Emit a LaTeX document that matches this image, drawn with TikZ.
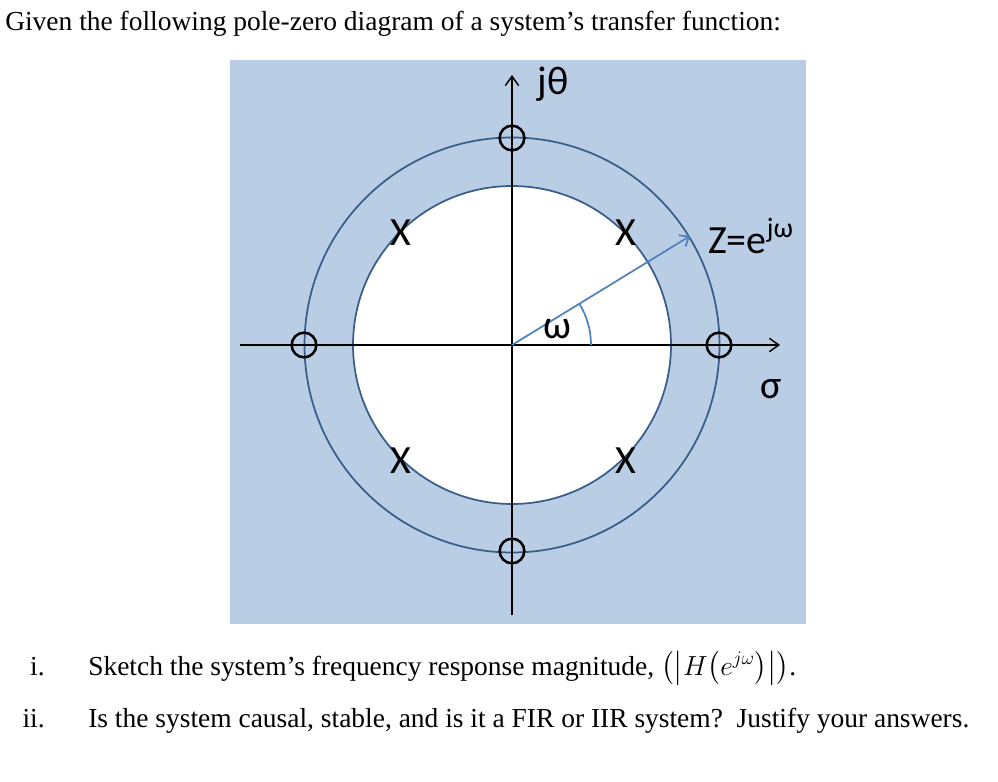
\documentclass[tikz,border=0pt]{standalone}
\usepackage{amsmath}
\usepackage{fontspec}
\setmainfont{Liberation Serif}
\newfontfamily\calib{Carlito}
\usetikzlibrary{arrows.meta}

\begin{document}
\begin{tikzpicture}[x=0.75pt,y=0.75pt,yscale=-1,xscale=1,
	axis/.style={draw={rgb, 255:red, 0; green, 0; blue, 0 }, line width=1.1pt, -{Straight Barb[length=7pt,width=10pt,line width=1.1pt]}},
	ring/.style={draw={rgb, 255:red, 56; green, 93; blue, 138 }, line width=1.3pt},
	blueln/.style={draw={rgb, 255:red, 79; green, 129; blue, 189 }, line width=1.3pt},
	zero/.style={circle, draw={rgb, 255:red, 0; green, 0; blue, 0 }, line width=1.9pt, minimum size=18.5pt, inner sep=0pt},
	pole/.style={inner sep=0.75pt, font=\calib\fontsize{30}{32}\selectfont},
	lbl/.style={inner sep=0.75pt, font=\calib\fontsize{30}{32}\selectfont},
	txt/.style={inner sep=0pt, font=\fontsize{20.6}{24}\selectfont}]
	\useasboundingbox (0,0) rectangle (998,781);
	
	%Shape: Rectangle [id:plane]
	\fill [color={rgb, 255:red, 185; green, 205; blue, 229 }] (230,60) rectangle (806,624) ;
	
	\coordinate (o) at (512,345);
	%Shape: Circle [id:outer]
	\draw [ring] (o) circle [radius=207.5] ;
	%Shape: Circle [id:inner]
	\draw [ring, fill=white] (o) circle [radius=159] ;
	
	%Straight Lines [id:sigma axis]
	\coordinate (hl) at (240,345);
	\coordinate (hr) at (780,345);
	\draw [axis] (hl) -- (hr) ;
	%Straight Lines [id:theta axis]
	\coordinate (vb) at (512,615);
	\coordinate (vt) at (512,75);
	\draw [axis] (vb) -- (vt) ;
	
	%Straight Lines [id:z arrow]
	\coordinate (zt) at (690,236);
	\draw [blueln, -{Straight Barb[length=6pt,width=10pt,line width=1.3pt]}] (o) -- (zt) ;
	%Curve Lines [id:omega arc]
	\draw [blueln] ([shift={(0:79)}]o) arc [start angle=0, end angle=-31.7, radius=79] ;
	
	% Zeros
	\node [zero] (z1) at (512,138) {};
	\node [zero] (z2) at (512,551) {};
	\node [zero] (z3) at (304,345) {};
	\node [zero] (z4) at (719,345) {};
	% Poles
	\node [pole] (p1) at (401,233) {X};
	\node [pole] (p2) at (626,233) {X};
	\node [pole] (p3) at (401,461) {X};
	\node [pole] (p4) at (626,461) {X};
	
	% Text Node
	\node [lbl] (jt) at (553,84) {jθ};
	% Text Node
	\node [lbl] (sg) at (771,389) {σ};
	% Text Node
	\node [lbl] (om) at (557,329) {ω};
	% Text Node
	\node [lbl, anchor=west] (zl) at (707,236) {Z=e\raisebox{0.4em}{\fontsize{21}{21}\selectfont jω}};
	
	% Text Node
	\node [txt, anchor=base west] (title) at (5,31) {Given the following pole-zero diagram of a system’s transfer function:};
	% Text Node
	\node [txt, anchor=base east] (n1) at (45,675) {i.};
	\node [txt, anchor=base west] (q1) at (88,675) {Sketch the system’s frequency response magnitude, $\bigl(\bigl|H\bigl(e^{j\omega}\bigr)\bigr|\bigr)$.};
	% Text Node
	\node [txt, anchor=base east] (n2) at (45,727) {ii.};
	\node [txt, anchor=base west] (q2) at (88,727) {Is the system causal, stable, and is it a FIR or IIR system?\ \ Justify your answers.};
\end{tikzpicture}
\end{document}
